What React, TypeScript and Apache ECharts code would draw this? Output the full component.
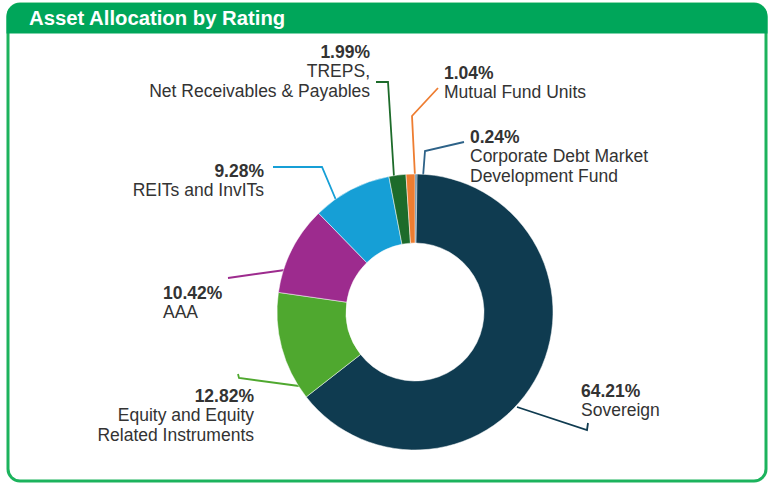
import React, { useEffect, useRef } from "react";
import * as echarts from "echarts";

// Portfolio split by rating (percent of net assets)
const categories = [
  "Corporate Debt Market\nDevelopment Fund",
  "Sovereign",
  "Equity and Equity\nRelated Instruments",
  "AAA",
  "REITs and InvITs",
  "TREPS,\nNet Receivables & Payables",
  "Mutual Fund Units",
];
const weights = [0.24, 64.21, 12.82, 10.42, 9.28, 1.99, 1.04];
const sliceColors = ["#2d6288", "#0f3b50", "#4fa82f", "#9d2b8e", "#169fd6", "#1d6b2a", "#ee7d31"];

// Where each callout sits and how its leader line runs (slice → elbow → text)
const calloutLayout = [
  { x: 470, y: 127, align: "left", line: [[423, 177], [425, 151], [464, 142]] },
  { x: 581, y: 381, align: "left", line: [[517, 407], [587, 430], [588, 423]] },
  { x: 254, y: 386, align: "right", line: [[299, 386], [239, 378], [238, 374]] },
  { x: 163, y: 283, align: "left", line: [[285, 270], [256, 274], [228, 278]] },
  { x: 264, y: 161, align: "right", line: [[336, 200], [322, 167], [273, 167]] },
  { x: 370, y: 42, align: "right", line: [[394, 177], [388, 82], [376, 82]] },
  { x: 444, y: 63, align: "left", line: [[415, 177], [412, 116], [438, 88]] },
];

const FONT = "'Liberation Sans', Arial, Helvetica, sans-serif";
const TEXT_COLOR = "#333333";
const HEADER_GREEN = "#00a65a";
const BORDER_GREEN = "#1cb35d";

export default function App() {
  const ref = useRef<HTMLDivElement>(null);

  useEffect(() => {
    if (!ref.current) return;
    const chart = echarts.init(ref.current, null, { renderer: "svg" });

    const data = categories.map((name, i) => {
      const align = calloutLayout[i].align;
      const base = { fontFamily: FONT, fontSize: 17.5, lineHeight: 19.5, color: TEXT_COLOR, align };
      return {
        name,
        value: weights[i],
        itemStyle: { color: sliceColors[i] },
        label: {
          align,
          rich: {
            p: { ...base, fontWeight: "bold" },
            n: { ...base },
          },
        },
      };
    });

    chart.setOption({
      animation: false,
      graphic: [
        {
          type: "rect",
          shape: { x: 8, y: 4, width: 758, height: 477, r: 12 },
          style: { fill: "none", stroke: BORDER_GREEN, lineWidth: 3 },
          z: 1,
        },
        {
          type: "rect",
          shape: { x: 6.5, y: 3, width: 761, height: 30.5, r: [14, 14, 0, 0] },
          style: { fill: HEADER_GREEN },
          z: 2,
        },
        {
          type: "text",
          x: 29,
          y: 17.5,
          style: {
            text: "Asset Allocation by Rating",
            fill: "#ffffff",
            font: `bold 20.3px ${FONT}`,
            textVerticalAlign: "middle",
            textAlign: "left",
          },
          z: 3,
        },
      ],
      series: [
        {
          type: "pie",
          center: [415, 312],
          radius: [69, 138],
          startAngle: 90,
          clockwise: true,
          avoidLabelOverlap: false,
          itemStyle: { borderColor: "#ffffff", borderWidth: 0.5 },
          emphasis: { disabled: true },
          label: {
            show: true,
            position: "outside",
            formatter: (p: any) => {
              const lines = String(p.name)
                .split("\n")
                .map((l: string) => `{n|${l}}`)
                .join("\n");
              return `{p|${Number(p.value).toFixed(2)}%}\n${lines}`;
            },
          },
          labelLine: { show: true, length: 10, length2: 10, lineStyle: { width: 1.8 } },
          labelLayout: (params: any) => {
            const c = calloutLayout[params.dataIndex];
            return {
              x: c.x,
              y: c.y,
              align: c.align,
              verticalAlign: "top",
              labelLinePoints: c.line,
            };
          },
          data,
        },
      ],
    });

    return () => chart.dispose();
  }, []);

  return (
    <div
      ref={ref}
      style={{ position: "fixed", left: 0, top: 0, width: 778, height: 489, background: "#ffffff" }}
    />
  );
}
